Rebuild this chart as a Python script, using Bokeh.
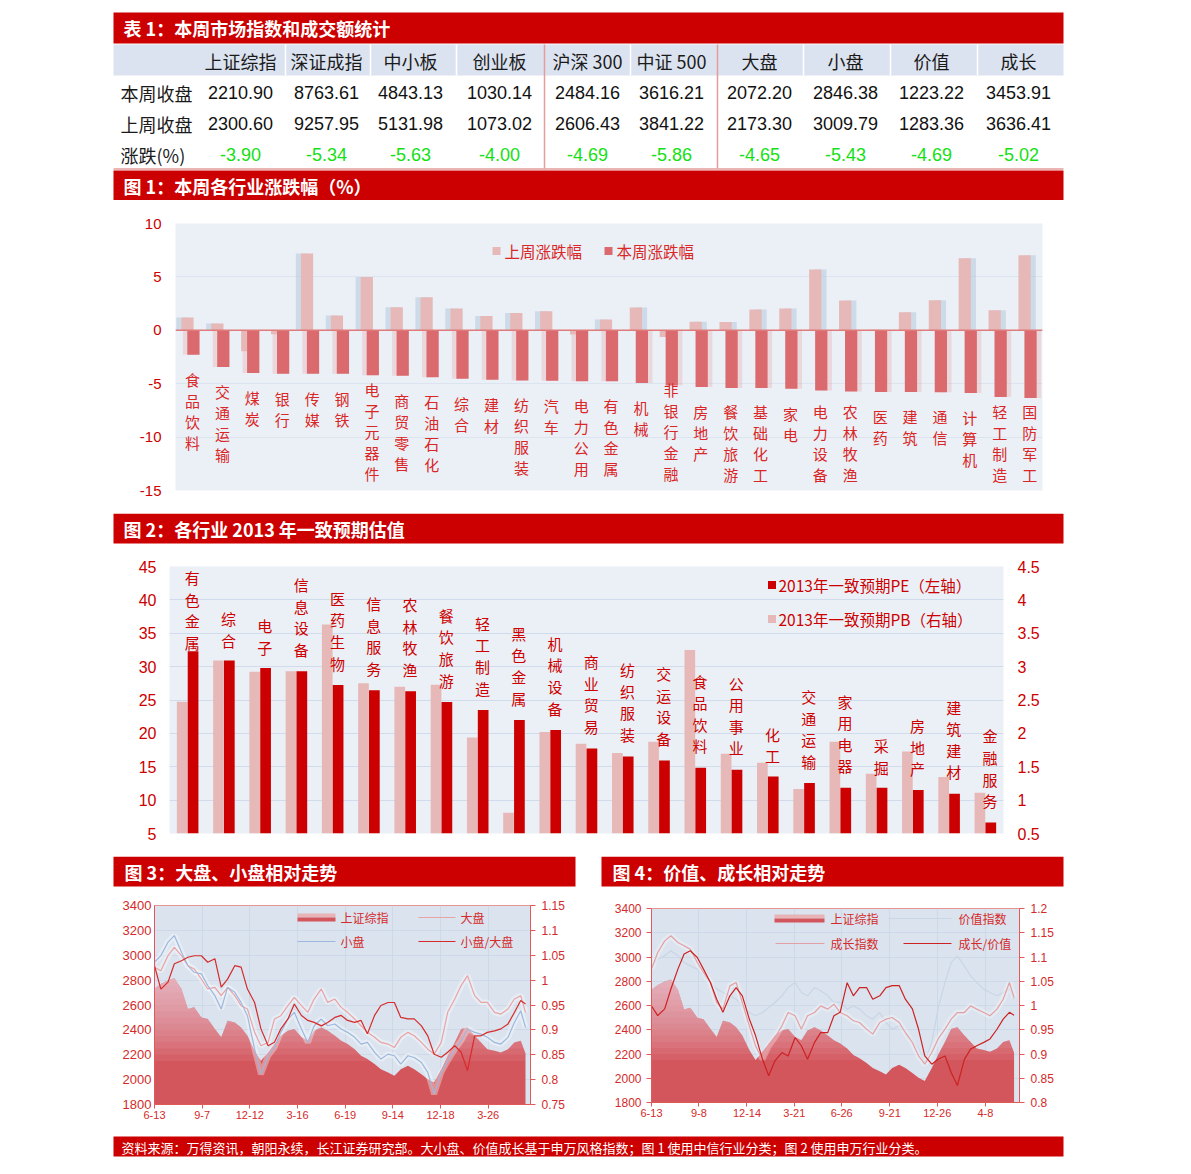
import numpy as np
from bokeh.plotting import figure
from bokeh.models import Range1d, LinearAxis, FixedTicker, Span, NumeralTickFormatter
from bokeh.layouts import column, row
from bokeh.embed import file_html
from bokeh.resources import INLINE
from bokeh.core.properties import value

CJK = "Noto Sans CJK SC"
NUM = "Liberation Sans"
RED = "#CC0000"
PAGE_W = 1191

# ---------------- Table 1 data ----------------
table_cols = ["上证综指", "深证成指", "中小板", "创业板", "沪深 300", "中证 500", "大盘", "小盘", "价值", "成长"]
row_labels = ["本周收盘", "上周收盘", "涨跌(%)"]
close_this = [2210.90, 8763.61, 4843.13, 1030.14, 2484.16, 3616.21, 2072.20, 2846.38, 1223.22, 3453.91]
close_last = [2300.60, 9257.95, 5131.98, 1073.02, 2606.43, 3841.22, 2173.30, 3009.79, 1283.36, 3636.41]
chg_pct = [-3.90, -5.34, -5.63, -4.00, -4.69, -5.86, -4.65, -5.43, -4.69, -5.02]

# ---------------- Figure 1 data ----------------
ind1 = ["食品饮料", "交通运输", "煤炭", "银行", "传媒", "钢铁", "电子元器件", "商贸零售", "石油石化",
        "综合", "建材", "纺织服装", "汽车", "电力公用", "有色金属", "机械", "非银行金融", "房地产",
        "餐饮旅游", "基础化工", "家电", "电力设备", "农林牧渔", "医药", "建筑", "通信", "计算机",
        "轻工制造", "国防军工"]
last_week = [1.19, 0.63, -1.97, -0.37, 7.19, 1.38, 5.00, 2.16, 3.09, 2.03, 1.34, 1.63, 1.78, -0.40,
             1.00, 2.13, -0.63, 0.81, 0.78, 1.94, 2.03, 5.69, 2.78, 0.05, 1.69, 2.81, 6.75, 1.88, 7.03]
this_week = [-2.28, -3.44, -4.00, -4.06, -4.06, -4.06, -4.22, -4.25, -4.40, -4.53, -4.63, -4.69,
             -4.72, -4.78, -4.78, -4.94, -5.16, -5.31, -5.41, -5.41, -5.47, -5.63, -5.72, -5.78,
             -5.78, -5.81, -5.88, -6.25, -6.34]
ticks1 = [-15, -10, -5, 0, 5, 10]

# ---------------- Figure 2 data ----------------
ind2 = ["有色金属", "综合", "电子", "信息设备", "医药生物", "信息服务", "农林牧渔", "餐饮旅游",
        "轻工制造", "黑色金属", "机械设备", "商业贸易", "纺织服装", "交运设备", "食品饮料",
        "公用事业", "化工", "交通运输", "家用电器", "采掘", "房地产", "建筑建材", "金融服务"]
pe_2013 = [32.3, 30.9, 29.8, 29.3, 27.25, 26.45, 26.3, 24.7, 23.5, 22.0, 20.5, 17.75, 16.55,
           15.95, 14.85, 14.55, 13.55, 12.55, 11.85, 11.85, 11.5, 10.95, 6.65]
pb_2013 = [2.475, 3.09, 2.925, 2.93, 3.63, 2.75, 2.7, 2.73, 1.94, 0.81, 2.02, 1.845, 1.705,
           1.875, 3.25, 1.695, 1.56, 1.165, 1.875, 1.395, 1.73, 1.345, 1.11]
ticks2_left = [5, 10, 15, 20, 25, 30, 35, 40, 45]
ticks2_right = [0.5, 1, 1.5, 2, 2.5, 3, 3.5, 4, 4.5]

# ---------------- Figures 3 & 4 data (trading-day index) ----------------
days = [0, 8, 17, 25, 34, 42, 50, 59, 67, 76, 84, 92, 101, 109, 117, 126, 134, 143, 151, 159,
        168, 176, 185, 193, 201, 210, 218, 227, 235, 243, 252, 260, 268, 277, 285, 294, 302, 310,
        319, 327, 336, 344, 352, 361, 369, 378, 386, 394, 403, 411, 419, 428, 436, 445, 453, 461, 467]
sse = [2729, 2769, 2796, 2815, 2729, 2568, 2581, 2500, 2487, 2407, 2340, 2474, 2460, 2420, 2353,
       2232, 2151, 2219, 2286, 2353, 2393, 2407, 2340, 2313, 2393, 2420, 2393, 2353, 2313, 2286,
       2245, 2192, 2165, 2125, 2084, 2058, 2031, 2084, 2111, 2084, 2044, 2004, 1977, 2084, 2192,
       2299, 2407, 2420, 2353, 2299, 2245, 2232, 2219, 2245, 2299, 2313, 2211]
large_cap = [2903, 2876, 2997, 3064, 2997, 2917, 2890, 2809, 2729, 2742, 2675, 2742, 2675, 2595,
             2568, 2380, 2272, 2299, 2487, 2514, 2595, 2662, 2595, 2541, 2648, 2729, 2621, 2648,
             2581, 2541, 2487, 2433, 2380, 2340, 2299, 2286, 2259, 2340, 2380, 2353, 2299, 2245,
             2205, 2299, 2541, 2648, 2756, 2836, 2675, 2621, 2621, 2541, 2527, 2568, 2648, 2675, 2541]
small_cap = [2944, 2997, 3105, 3158, 3024, 2917, 2863, 2850, 2756, 2675, 2568, 2742, 2702, 2621,
             2514, 2245, 2044, 2192, 2259, 2380, 2487, 2541, 2407, 2299, 2433, 2487, 2433, 2447,
             2407, 2380, 2340, 2286, 2299, 2219, 2165, 2205, 2192, 2125, 2192, 2178, 2138, 2058,
             1883, 2058, 2151, 2245, 2313, 2407, 2380, 2366, 2340, 2299, 2286, 2340, 2460, 2554, 2420]
small_large = [1.029, 0.982, 0.996, 1.033, 1.039, 1.046, 1.049, 1.049, 1.036, 1.043, 0.986, 1.002,
               1.029, 1.026, 0.982, 0.955, 0.902, 0.868, 0.875, 0.902, 0.922, 0.952, 0.929, 0.919,
               0.915, 0.908, 0.915, 0.925, 0.929, 0.919, 0.915, 0.919, 0.892, 0.929, 0.949, 0.955,
               0.955, 0.925, 0.922, 0.922, 0.908, 0.888, 0.851, 0.845, 0.855, 0.868, 0.855, 0.818,
               0.888, 0.888, 0.895, 0.898, 0.902, 0.912, 0.935, 0.959, 0.952]
growth_idx = [2900, 3037, 3133, 3175, 3120, 3092, 3065, 2955, 2872, 2790, 2625, 2570, 2762, 2790,
              2625, 2432, 2267, 2157, 2267, 2336, 2432, 2542, 2515, 2405, 2515, 2542, 2597, 2570,
              2611, 2542, 2515, 2474, 2460, 2405, 2364, 2460, 2487, 2501, 2460, 2377, 2295, 2185,
              2116, 2212, 2322, 2405, 2487, 2542, 2542, 2597, 2570, 2542, 2515, 2570, 2652, 2790, 2666]
value_idx = [2927, 2982, 3010, 3051, 3010, 2955, 2927, 2900, 2845, 2790, 2735, 2707, 2680, 2652,
             2597, 2542, 2515, 2542, 2584, 2625, 2680, 2748, 2790, 2707, 2680, 2748, 2721, 2680,
             2625, 2625, 2570, 2597, 2570, 2515, 2487, 2542, 2460, 2405, 2432, 2377, 2322, 2240,
             2130, 2295, 2570, 2790, 2955, 3010, 2927, 2845, 2790, 2735, 2707, 2680, 2707, 2735, 2652]
growth_value = [0.999, 0.979, 0.993, 1.034, 1.075, 1.106, 1.113, 1.099, 1.075, 1.047, 1.013, 0.986,
                1.020, 1.037, 1.020, 0.972, 0.938, 0.889, 0.855, 0.886, 0.903, 0.896, 0.934, 0.917,
                0.889, 0.924, 0.944, 0.944, 0.979, 0.986, 1.047, 1.020, 1.037, 1.037, 1.013, 1.020,
                1.037, 1.041, 1.041, 1.013, 0.993, 0.951, 0.896, 0.879, 0.889, 0.896, 0.862, 0.835,
                0.889, 0.910, 0.917, 0.924, 0.931, 0.951, 0.972, 0.986, 0.980]
ticks_left_idx = [1800, 2000, 2200, 2400, 2600, 2800, 3000, 3200, 3400]
f3_tick_days = [0, 60, 120, 180, 240, 300, 360, 420]
f3_tick_labels = ["6-13", "9-7", "12-12", "3-16", "6-19", "9-14", "12-18", "3-26"]
f3_right_ticks = [0.75, 0.8, 0.85, 0.9, 0.95, 1.0, 1.05, 1.1, 1.15]
f4_tick_days = [0, 61, 123, 184, 245, 307, 368, 430]
f4_tick_labels = ["6-13", "9-8", "12-14", "3-21", "6-26", "9-21", "12-26", "4-8"]
f4_right_ticks = [0.8, 0.85, 0.9, 0.95, 1.0, 1.05, 1.1, 1.15, 1.2]

footer_text = "资料来源：万得资讯，朝阳永续，长江证券研究部。大小盘、价值成长基于申万风格指数；图 1 使用中信行业分类；图 2 使用申万行业分类。"


# ---------------- helpers ----------------
def canvas(x0, y0, w, h):
    p = figure(width=w, height=h, x_range=Range1d(x0, x0 + w), y_range=Range1d(y0 + h, y0),
               x_axis_type=None, y_axis_type=None, toolbar_location=None,
               output_backend="svg", min_border=0, outline_line_color=None,
               background_fill_color="white", border_fill_color="white")
    return p


def put_text(p, x, y, s, size, color, font=CJK, align="left", baseline="middle", bold=False, **kw):
    p.text(x=[x], y=[y], text=[s], text_font=value(font), text_font_size=f"{size}px",
           text_color=color, text_align=align, text_baseline=baseline,
           text_font_style="bold" if bold else "normal", **kw)


def header_bar(p, x0, x1, y0, y1, title, tx=None):
    p.quad(left=[x0], right=[x1], top=[y0], bottom=[y1], fill_color=RED, line_color=None)
    put_text(p, (x0 + 10) if tx is None else tx, (y0 + y1) / 2, title, 18, "white", bold=True)


def style_axis(ax, size, color=RED, font=NUM):
    ax.major_label_text_font = font
    ax.major_label_text_font_size = f"{size}px"
    ax.major_label_text_color = color
    ax.minor_tick_line_color = None


# ---------------- top: table + figure 1 header ----------------
top = canvas(0, 0, PAGE_W, 200)
header_bar(top, 113, 1063, 12, 43, "表 1：本周市场指数和成交额统计")
top.quad(left=[113], right=[1063], top=[44], bottom=[75], fill_color="#DCE3F0", line_color=None)
col_x = [240, 326, 410, 499, 587, 671, 759, 845, 931, 1018]
sep_white = [285, 370, 456, 630, 803, 890, 977]
top.segment(x0=sep_white, y0=[44] * len(sep_white), x1=sep_white, y1=[75] * len(sep_white),
            line_color="white", line_width=1.5)
top.segment(x0=[544, 717], y0=[44, 44], x1=[544, 717], y1=[168, 168], line_color="#E59C9C", line_width=1.5)
top.segment(x0=[113], y0=[168.5], x1=[1063], y1=[168.5], line_color="#E59C9C", line_width=1.5)
for x, c in zip(col_x, table_cols):
    put_text(top, x, 60, c, 18, "#1A1A1A", align="center")
row_y = [92, 123, 154]
for y, lab in zip(row_y, row_labels):
    put_text(top, 120, y, lab, 18, "#1A1A1A")
top.text(x=col_x, y=[row_y[0]] * 10, text=[f"{v:.2f}" for v in close_this], text_font=value(NUM),
         text_font_size="18px", text_color="#111111", text_align="center", text_baseline="middle")
top.text(x=col_x, y=[row_y[1]] * 10, text=[f"{v:.2f}" for v in close_last], text_font=value(NUM),
         text_font_size="18px", text_color="#111111", text_align="center", text_baseline="middle")
top.text(x=col_x, y=[row_y[2]] * 10, text=[f"{v:.2f}" for v in chg_pct], text_font=value(NUM),
         text_font_size="18px", text_color="#14E014", text_align="center", text_baseline="middle")
header_bar(top, 113, 1063, 170, 200, "图 1：本周各行业涨跌幅（%）")

# ---------------- figure 1 ----------------
F1 = dict(x0=175, x1=1042, y0=223, y1=490)
n1 = len(ind1)
p1 = figure(width=PAGE_W, height=313, x_range=Range1d(-0.5, n1 - 0.5), y_range=Range1d(-15, 10),
            min_border_left=175, min_border_right=149, min_border_top=23, min_border_bottom=23,
            x_axis_type=None, toolbar_location=None, output_backend="svg",
            background_fill_color="#EBF0F6", border_fill_color="white", outline_line_color=None)
p1.yaxis.ticker = FixedTicker(ticks=ticks1)
p1.yaxis.major_label_overrides = {t: str(t) for t in ticks1}
style_axis(p1.yaxis[0], 15)
p1.yaxis.axis_line_color = None
p1.yaxis.major_tick_line_color = None
p1.yaxis.major_tick_out = 0
p1.yaxis.major_tick_in = 0
p1.yaxis.major_label_standoff = 14
p1.ygrid.grid_line_color = "#DCE4EF"
idx1 = np.arange(n1)
# soft 3-D style shadows (blue beside rising bars, pink beside falling bars)
side = np.where(idx1 < n1 / 2, -1.0, 1.0)
pos_last = np.maximum(np.array(last_week), 0)
p1.vbar(x=idx1 - 0.1 + side * 0.17, top=pos_last, width=0.41, fill_color="#A9C0D8",
        fill_alpha=0.45, line_color=None)
p1.vbar(x=idx1 + 0.1 + side * 0.15, top=this_week, width=0.41, fill_color="#E9A9AC",
        fill_alpha=0.35, line_color=None)
p1.vbar(x=idx1 - 0.1, top=last_week, width=0.41, fill_color="#E6B9B8", line_color=None)
p1.vbar(x=idx1 + 0.1, top=this_week, width=0.41, fill_color="#DA6A6E", line_color=None)
p1.add_layout(Span(location=0, dimension="width", line_color="#E07B7B", line_width=1.5))
ppu1 = (F1["y1"] - F1["y0"]) / 25.0
cat1 = (F1["x1"] - F1["x0"]) / n1
lab1_y = [max(v - 14 / ppu1, -15 + (len(n) * 21.7 + 3) / ppu1) for n, v in zip(ind1, this_week)]
p1.text(x=list(idx1 + 0.07), y=lab1_y, text=["\n".join(n) for n in ind1], text_font=value(CJK),
        text_font_size="15px", text_color="#D92626", text_align="center", text_baseline="top",
        text_line_height=1.0)


def d1(px, py):
    return (px - F1["x0"]) / cat1 - 0.5, 10 - (py - F1["y0"]) / ppu1


for (mx, tx, col, lab) in [(496, 504, "#E6B9B8", "上周涨跌幅"), (608, 616, "#DA6A6E", "本周涨跌幅")]:
    x, y = d1(mx, 250.5)
    p1.scatter(x=[x], y=[y], marker="square", size=8, fill_color=col, line_color=None)
    x, y = d1(tx, 250.5)
    put_text(p1, x, y, lab, 15.5, "#D92626")

# ---------------- figure 2 header ----------------
hdr2 = canvas(0, 513, PAGE_W, 33)
header_bar(hdr2, 113, 1063, 513, 543, "图 2：各行业 2013 年一致预期估值")

# ---------------- figure 2 ----------------
F2 = dict(x0=169, x1=1003, y0=566, y1=833)
n2 = len(ind2)
p2 = figure(width=PAGE_W, height=310, x_range=Range1d(-0.5, n2 - 0.5), y_range=Range1d(5, 45),
            min_border_left=169, min_border_right=188, min_border_top=20, min_border_bottom=23,
            x_axis_type=None, toolbar_location=None, output_backend="svg",
            background_fill_color="#EBF0F6", border_fill_color="white", outline_line_color=None)
p2.extra_y_ranges = {"pb": Range1d(0.5, 4.5)}
p2.add_layout(LinearAxis(y_range_name="pb"), "right")
p2.left[0].ticker = FixedTicker(ticks=ticks2_left)
p2.right[0].ticker = FixedTicker(ticks=ticks2_right)
p2.right[0].formatter = NumeralTickFormatter(format="0.[0]")
for ax in p2.yaxis:
    style_axis(ax, 16)
    ax.axis_line_color = None
    ax.major_tick_line_color = None
    ax.major_tick_out = 0
    ax.major_tick_in = 0
p2.left[0].major_label_standoff = 13
p2.right[0].major_label_standoff = 14
p2.ygrid.grid_line_color = "#D0DCEB"
idx2 = np.arange(n2)
p2.vbar(x=idx2 - 0.15, top=pb_2013, bottom=0.5, width=0.295, y_range_name="pb",
        fill_color="#E6B9B8", line_color=None)
p2.vbar(x=idx2 + 0.15, top=pe_2013, bottom=5, width=0.295, fill_color=RED, line_color=None)
ppu2 = (F2["y1"] - F2["y0"]) / 40.0
cat2 = (F2["x1"] - F2["x0"]) / n2
lab2_y = [min(v + (len(n) * 22.3 + 8) / ppu2, 45 - 0.1) for n, v in zip(ind2, pe_2013)]
p2.text(x=list(idx2 + 0.13), y=lab2_y, text=["\n".join(n) for n in ind2], text_font=value(CJK),
        text_font_size="15px", text_color=RED, text_align="center", text_baseline="top",
        text_line_height=1.03)


def d2(px, py):
    return (px - F2["x0"]) / cat2 - 0.5, 45 - (py - F2["y0"]) / ppu2


for (py, col, lab) in [(584.5, RED, "2013年一致预期PE（左轴）"), (618.5, "#E6B9B8", "2013年一致预期PB（右轴）")]:
    x, y = d2(771.5, py)
    p2.scatter(x=[x], y=[y], marker="square", size=8, fill_color=col, line_color=None)
    x, y = d2(778, py)
    put_text(p2, x, y, lab, 15.5, RED)

# ---------------- figure 3/4 header ----------------
hdr34 = canvas(0, 856, PAGE_W, 34)
header_bar(hdr34, 113, 575, 856, 886, "图 3：大盘、小盘相对走势", tx=124)
header_bar(hdr34, 601, 1063, 856, 886, "图 4：价值、成长相对走势", tx=612)


# ---------------- trend charts ----------------
def trend_chart(w, h, bl, br, bt, bb, x_end, r_range, r_ticks, tick_days, tick_labels,
                left_font, left_tick_out, left_standoff):
    p = figure(width=w, height=h, x_range=Range1d(0, x_end), y_range=Range1d(1800, 3400),
               min_border_left=bl, min_border_right=br, min_border_top=bt, min_border_bottom=bb,
               toolbar_location=None, output_backend="svg",
               background_fill_color="#DAE3EE", border_fill_color="white",
               outline_line_color="#E79494", outline_line_width=1)
    p.extra_y_ranges = {"r": Range1d(*r_range)}
    p.add_layout(LinearAxis(y_range_name="r"), "right")
    p.xaxis.ticker = FixedTicker(ticks=tick_days)
    p.xaxis.major_label_overrides = {d: l for d, l in zip(tick_days, tick_labels)}
    p.left[0].ticker = FixedTicker(ticks=ticks_left_idx)
    p.right[0].ticker = FixedTicker(ticks=r_ticks)
    p.right[0].formatter = NumeralTickFormatter(format="0.[00]")
    for ax in p.axis:
        style_axis(ax, 12, color="#D42A2A")
        ax.axis_line_color = "#E05A5A"
        ax.major_tick_line_color = "#E05A5A"
        ax.major_tick_in = 0
        ax.major_tick_out = 5
        ax.major_label_standoff = 6
    p.left[0].major_label_text_font_size = f"{left_font}px"
    p.left[0].major_tick_out = left_tick_out
    p.left[0].major_label_standoff = left_standoff
    p.xaxis.major_label_text_font_size = "11px"
    p.xaxis.major_tick_out = 4
    p.xaxis.major_label_standoff = 2
    p.grid.grid_line_color = "#C9D6E6"
    p.grid.grid_line_alpha = 0.8
    # index area with a finely stepped vertical gradient
    p.varea(x=days, y1=1800, y2=sse, fill_color="#D3565C")
    for lvl in range(2150, 2851, 50):
        p.varea(x=days, y1=lvl, y2=list(np.maximum(sse, lvl)), fill_color="#F4E9ED", fill_alpha=0.075)
    return p


# figure 3
F3 = dict(x0=154, x1=530, y0=905, y1=1104, xe=473.3)
p3 = trend_chart(590, 240, 154, 60, 15, 26, F3["xe"], (0.75, 1.15), f3_right_ticks,
                 f3_tick_days, f3_tick_labels, 13, 0, 3)
p3.line(days, large_cap, line_color="white", line_width=6, line_alpha=0.35)
p3.line(days, small_cap, line_color="white", line_width=6, line_alpha=0.35)
p3.line(days, large_cap, line_color="#E9A3A6", line_width=1.2)
p3.line(days, small_cap, line_color="#9DB8DC", line_width=1.2)
p3.line(days, small_large, y_range_name="r", line_color="#D62B2B", line_width=1.2)

# figure 4
F4 = dict(x0=651, x1=1019, y0=908, y1=1102, xe=474)
p4 = trend_chart(601, 240, 61, 172, 18, 28, F4["xe"], (0.8, 1.2), f4_right_ticks,
                 f4_tick_days, f4_tick_labels, 12, 5, 5)
p4.line(days, value_idx, line_color="#C9D6E6", line_width=1.2)
p4.line(days, growth_idx, line_color="white", line_width=6, line_alpha=0.3)
p4.line(days, growth_idx, line_color="#E3A1A5", line_width=1.2)
p4.line(days, growth_value, y_range_name="r", line_color="#CC2222", line_width=1.2)


def legend_block(p, F, items):
    def conv(px, py):
        return ((px - F["x0"]) / (F["x1"] - F["x0"]) * F["xe"],
                3400 - (py - F["y0"]) / (F["y1"] - F["y0"]) * 1600)
    for kind, gx0, gx1, py, tx, col, lab in items:
        xa, ya = conv(gx0, py)
        xb, _ = conv(gx1, py)
        if kind == "area":
            _, yt = conv(gx0, py - 4)
            _, ym = conv(gx0, py)
            _, yb = conv(gx0, py + 4)
            p.quad(left=[xa], right=[xb], top=[yt], bottom=[ym], fill_color="#E7B3B7", line_color=None)
            p.quad(left=[xa], right=[xb], top=[ym], bottom=[yb], fill_color="#D3565C", line_color=None)
        else:
            p.segment(x0=[xa], y0=[ya], x1=[xb], y1=[ya], line_color=col, line_width=1.2)
        x, y = conv(tx, py)
        put_text(p, x, y, lab, 12, "#D42A2A")


legend_block(p3, F3, [
    ("area", 297, 335, 917, 340, None, "上证综指"),
    ("line", 418, 455, 917, 460, "#E9A3A6", "大盘"),
    ("line", 297, 335, 941, 340, "#9DB8DC", "小盘"),
    ("line", 418, 455, 941, 460, "#D62B2B", "小盘/大盘"),
])
legend_block(p4, F4, [
    ("area", 774, 824, 918, 830, None, "上证综指"),
    ("line", 888, 951, 918, 958, "#C9D6E6", "价值指数"),
    ("line", 775, 824, 943, 830, "#E3A1A5", "成长指数"),
    ("line", 903, 951, 943, 958, "#CC2222", "成长/价值"),
])

# ---------------- footer ----------------
foot = canvas(0, 1130, PAGE_W, 44)
foot.quad(left=[113], right=[1063], top=[1136], bottom=[1156], fill_color=RED, line_color=None)
put_text(foot, 121, 1146.5, footer_text, 13, "white")

# each plot wrapped on its own so that frames are not aligned across the page
layout = column(row(top), row(p1), row(hdr2), row(p2), row(hdr34),
                row(column(p3), column(p4)), row(foot))
open("out.html", "w").write(file_html(layout, INLINE))
